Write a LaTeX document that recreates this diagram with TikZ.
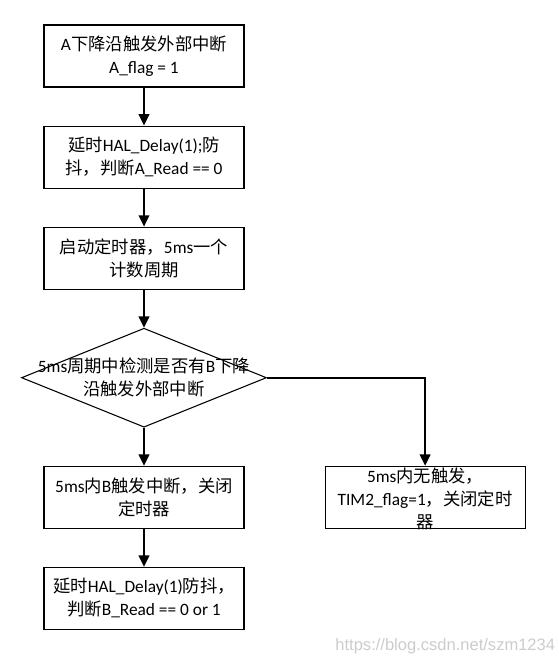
\documentclass[tikz,border=0pt]{standalone}
\usepackage{fontspec}
\setmainfont{Carlito}
\newfontfamily\cjk{Noto Sans CJK SC}
\newfontfamily\webfont{Liberation Sans}
\newcommand{\zh}[1]{{\cjk #1}}
\usetikzlibrary{shapes.geometric,arrows.meta,positioning}

\begin{document}
\begin{tikzpicture}[
  font=\fontsize{13}{17.25}\selectfont,
  box/.style={draw, line width=0.8pt, minimum width=150pt, minimum height=46.5pt, inner sep=0pt, align=center},
  decision/.style={draw, diamond, line width=0.8pt, minimum width=183.75pt, minimum height=74.25pt, inner sep=0pt},
  line/.style={line width=1.4pt, -{Triangle[width=8pt,length=8.5pt]}},
  node distance=28.5pt
]

\useasboundingbox (0,0) rectangle (419.25pt,-492.75pt);

\node[box] (aint) at (108pt,-42pt) {A\zh{下降沿触发外部中断}\\A\_flag = 1};
\node[box, below=of aint] (adelay) {\zh{延时}HAL\_Delay(1);\zh{防}\\\zh{抖，判断}A\_Read == 0};
\node[box, below=of adelay] (timer) {\zh{启动定时器，}5ms\zh{一个}\\\zh{计数周期}};
\node[decision, below=of timer, label={[align=center]center:{5ms\zh{周期中检测是否有}B\zh{下降}\\\zh{沿触发外部中断}}}] (check) {};
\node[box, below=of check] (bhit) {5ms\zh{内}B\zh{触发中断，关闭}\\\zh{定时器}};
\node[box, right=60pt of bhit, label={[align=center, yshift=-1.5pt]center:{5ms\zh{内无触发，}\\TIM2\_flag=1\zh{，关闭定时}\\\zh{器}}}] (nohit) {};
\node[box, below=of bhit] (bdelay) {\zh{延时}HAL\_Delay(1)\zh{防抖，}\\\zh{判断}B\_Read == 0 or 1};

\draw[line] (aint) -- (adelay);
\draw[line] (adelay) -- (timer);
\draw[line] (timer) -- (check);
\draw[line] (check) -- (bhit);
\draw[line] (bhit) -- (bdelay);
\draw[line] (check.east) -| (nohit.north);

\node[anchor=south east, inner sep=0pt, text=gray!40, font=\webfont\fontsize{12.4}{13}\selectfont] (mark) at (416.5pt,-491pt) {https://blog.csdn.net/szm1234};

\end{tikzpicture}
\end{document}
